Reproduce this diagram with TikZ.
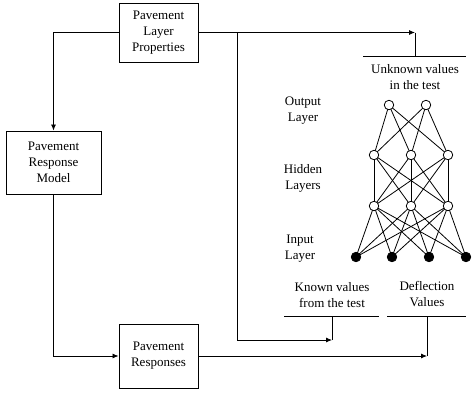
\documentclass[tikz,border=0pt]{standalone}
\usepackage{fontspec}
\setmainfont{Liberation Serif}
\usetikzlibrary{arrows.meta}

\tikzset{
  blk/.style = {draw, line width=0.9pt, align=center, inner sep=0pt},
  lbl/.style = {align=center, inner sep=0pt},
  arr/.style = {-{Latex[length=6pt,width=5pt]}},
  neur/.style = {draw, circle, fill=white, minimum size=9.5pt, inner sep=0pt},
  inp/.style = {neur, fill=black}
}

\begin{document}
\begin{tikzpicture}[x=1pt, y=-1pt, line width=0.8pt,
  every node/.append style={font=\fontsize{13}{16}\selectfont}]
  \useasboundingbox (0,0) rectangle (474,402);

  % blocks
  \node[blk, minimum width=79pt, minimum height=59pt] (props) at (158.5,32.5) {Pavement\\Layer\\Properties};
  \node[blk, minimum width=95pt, minimum height=63pt] (model) at (53.5,162.5) {Pavement\\Response\\Model};
  \node[blk, minimum width=79pt, minimum height=64pt] (resp) at (158.5,356) {Pavement\\Responses};

  % labels
  \node[lbl] (unk) at (415,77) {Unknown values\\in the test};
  \node[lbl] (outl) at (303,111) {Output\\Layer};
  \node[lbl] (hidl) at (303,178) {Hidden\\Layers};
  \node[lbl] (inl) at (300,249) {Input\\Layer};
  \node[lbl] (known) at (332,295) {Known values\\from the test};
  \node[lbl] (defl) at (427,294) {Deflection\\Values};

  % bars under / over the labels
  \coordinate (ut) at (415,56);
  \coordinate (kt) at (332,316);
  \coordinate (dv) at (427,316);
  \draw (363,56) -- (466,56);
  \draw (284,316) -- (379,316);
  \draw (387,316) -- (466,316);

  % connectors
  \coordinate (br) at (237,32.5);
  \coordinate (kc) at (332,340);
  \draw[arr] (props.west) -| (model.north);
  \draw[arr] (props.east) -- (props.east -| ut);
  \draw (props.east -| ut) -- (ut);
  \draw[arr] (br) |- (kc);
  \draw (kc) -- (kt);
  \draw[arr] (model.south) |- (resp.west);
  \draw[arr] (resp.east) -- (resp.east -| dv);
  \draw (resp.east -| dv) -- (dv);

  % network
  \foreach \i/\x in {1/389,2/426}
    \coordinate (o\i) at (\x,105);
  \foreach \i/\x in {1/374,2/411,3/448} {
    \coordinate (h\i) at (\x,155);
    \coordinate (g\i) at (\x,206);
  }
  \foreach \i/\x in {1/356,2/392,3/429,4/466}
    \coordinate (n\i) at (\x,257);

  \foreach \a in {1,2}
    \foreach \b in {1,2,3}
      \draw (o\a) -- (h\b);
  \foreach \a in {1,2,3}
    \foreach \b in {1,2,3}
      \draw (h\a) -- (g\b);
  \foreach \a in {1,2,3}
    \foreach \b in {1,2,3,4}
      \draw (g\a) -- (n\b);

  \foreach \i in {1,2}
    \node[neur] at (o\i) {};
  \foreach \i in {1,2,3} {
    \node[neur] at (h\i) {};
    \node[neur] at (g\i) {};
  }
  \foreach \i in {1,2,3,4}
    \node[inp] at (n\i) {};
\end{tikzpicture}
\end{document}
